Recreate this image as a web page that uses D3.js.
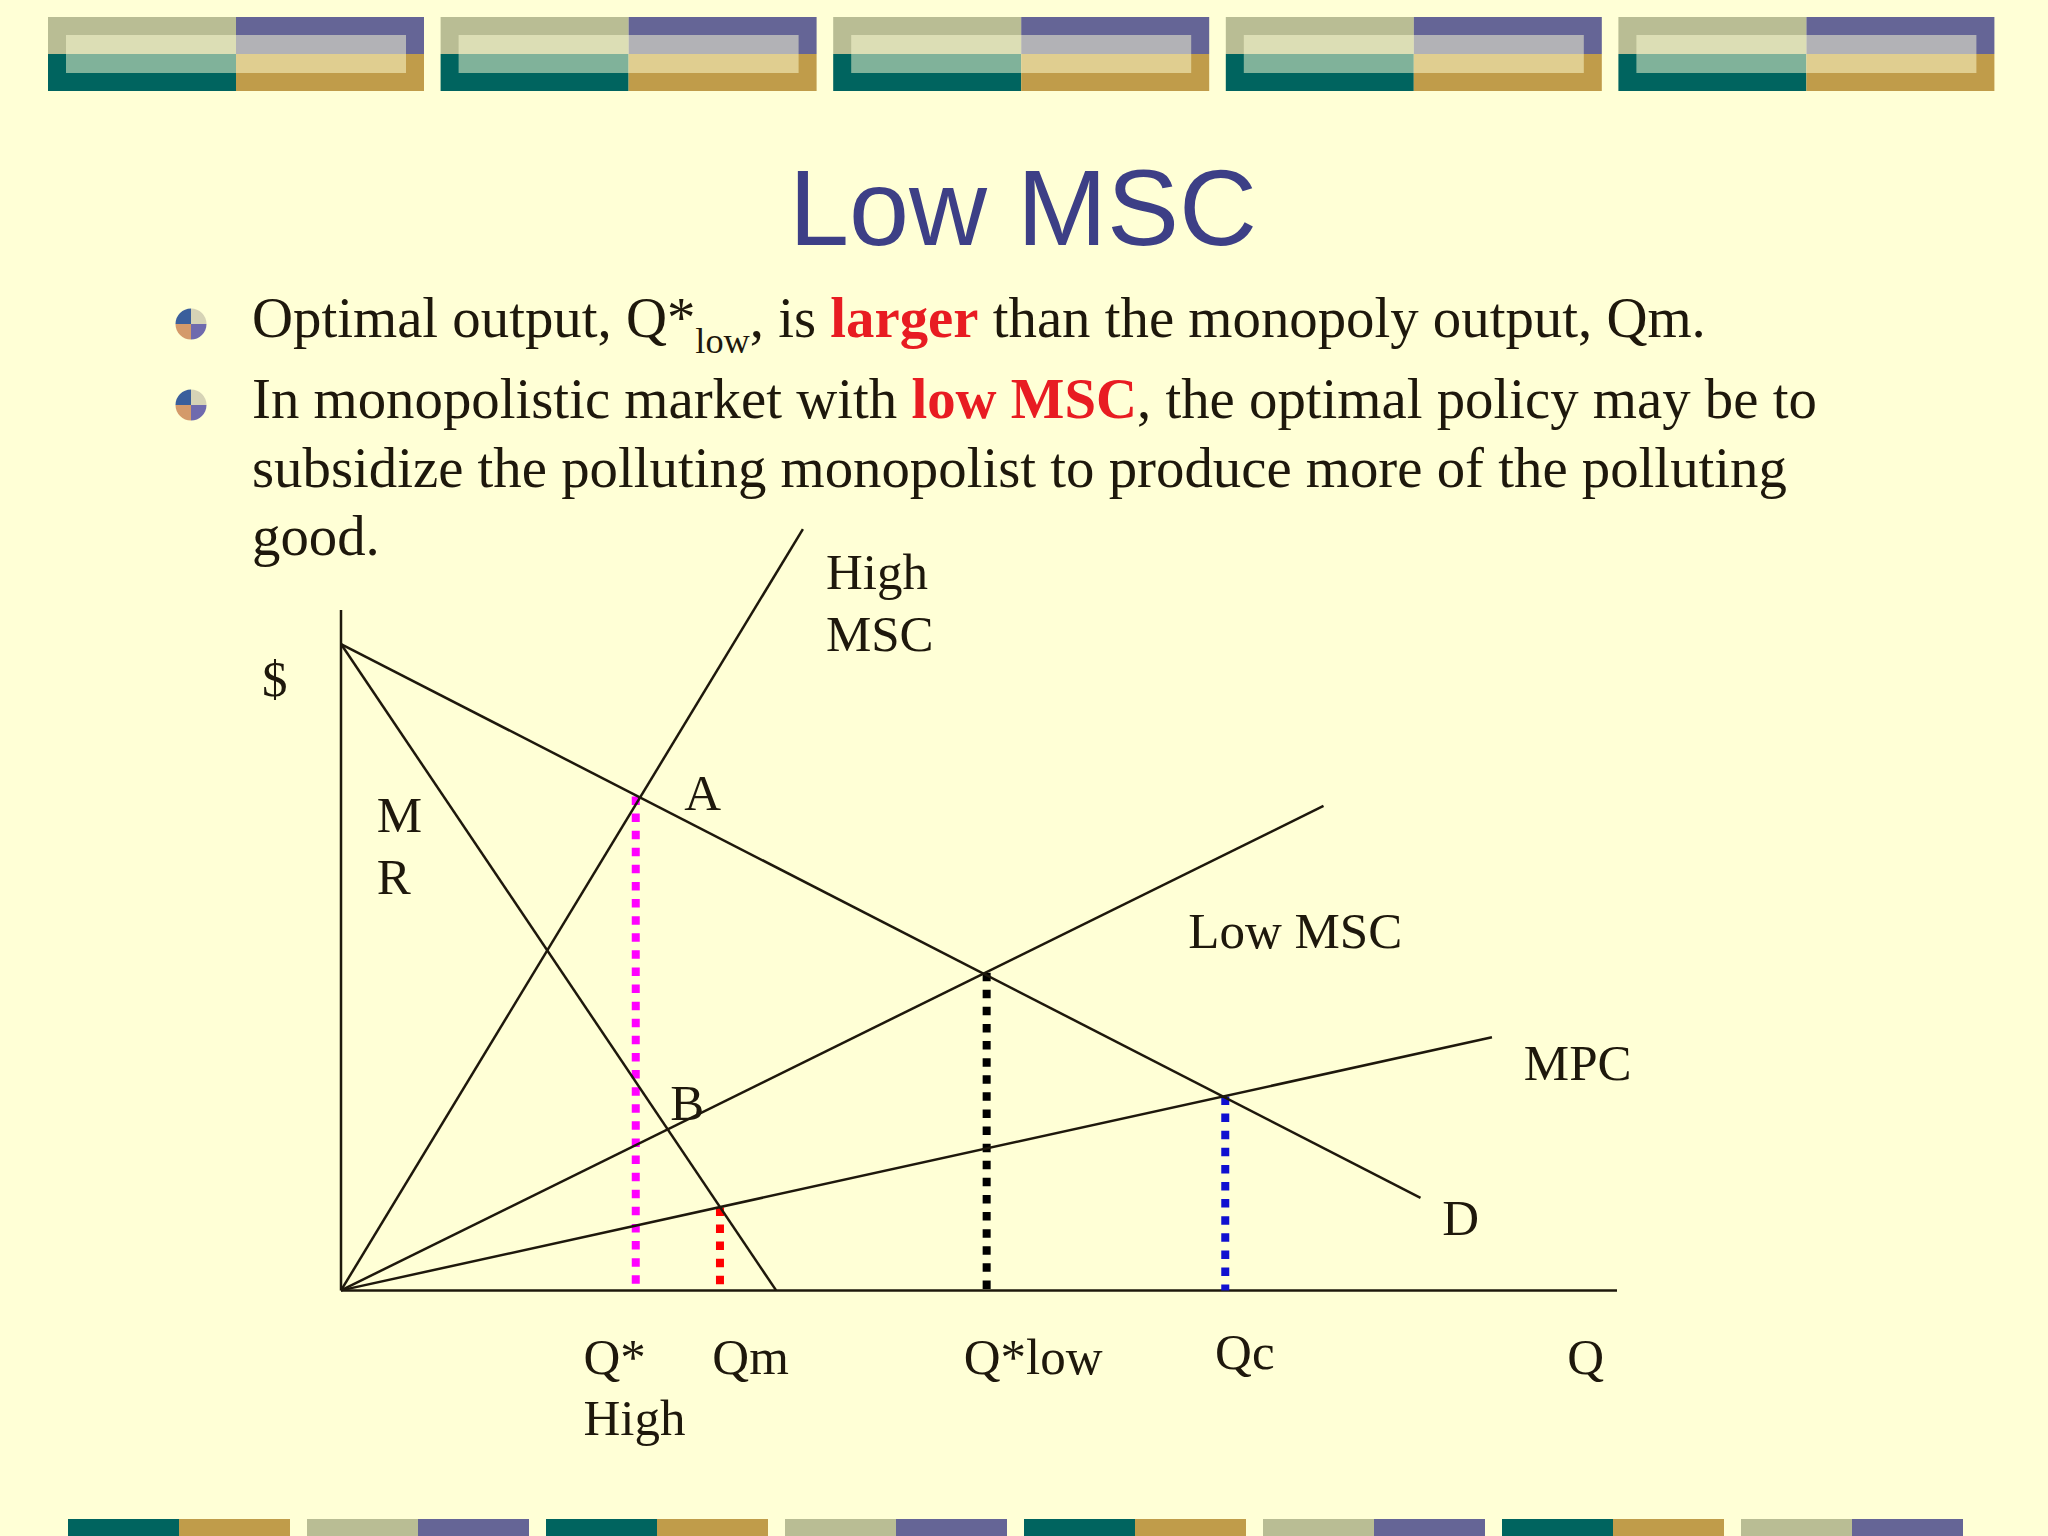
<!DOCTYPE html>
<html lang="en">
<head>
<meta charset="UTF-8">
<title>Low MSC</title>
<script src="https://d3js.org/d3.v7.min.js"></script>
<style>
  body { margin: 0; background: #ffffd6; }
</style>
</head>
<body>
<svg id="chart" width="2048" height="1536"></svg>
<script>
// curves: name, start point [Q, $], end point [Q, $]
const curveNames = ["D", "MR", "High MSC", "Low MSC", "MPC"];
const curveStart = [[0, 95], [0, 95], [0, 0], [0, 0], [0, 0]];
const curveEnd = [[84.6, 13.6], [34.1, 0], [36.2, 111.9], [77.0, 71.2], [90.2, 37.2]];

// dotted drop lines at the intersections
const dropNames = ["Q* High", "Qm", "Q*low", "Qc"];
const dropQ = [23.1, 29.7, 50.6, 69.3];
const dropP = [72.6, 12.2, 46.7, 28.5];
const dropColors = ["#ff00ff", "#ff0000", "#000000", "#1010d0"];

// axis tick labels under the Q axis
const qLabels = ["Q*", "Qm", "Q*low", "Qc", "Q"];

const W = 2048, H = 1536;
const svg = d3.select("#chart");
const ink = "#1e180c";
const serif = "'Liberation Serif', 'Times New Roman', serif";

svg.append("rect").attr("width", W).attr("height", H).attr("fill", "#ffffd6");

// ---- decorative banners
const teal = "#00645f", gold = "#c09c4a", olive = "#b9bd94", purple = "#656596";
const banner = svg.append("g");
d3.range(5).forEach(i => {
  const x0 = 48 + i * 392.6;
  const g = banner.append("g").attr("transform", `translate(${x0},17)`);
  g.append("rect").attr("x", 0).attr("y", 0).attr("width", 188).attr("height", 37).attr("fill", olive);
  g.append("rect").attr("x", 188).attr("y", 0).attr("width", 188).attr("height", 37).attr("fill", purple);
  g.append("rect").attr("x", 0).attr("y", 37).attr("width", 188).attr("height", 37).attr("fill", teal);
  g.append("rect").attr("x", 188).attr("y", 37).attr("width", 188).attr("height", 37).attr("fill", gold);
  g.append("rect").attr("x", 18).attr("y", 18).attr("width", 340).attr("height", 38)
    .attr("fill", "#ffffd6").attr("opacity", 0.5);
});
d3.range(8).forEach(i => {
  const x0 = 68 + i * 239;
  const a = i % 2 === 0 ? teal : olive, b = i % 2 === 0 ? gold : purple;
  svg.append("rect").attr("x", x0).attr("y", 1519).attr("width", 111).attr("height", 20).attr("fill", a);
  svg.append("rect").attr("x", x0 + 111).attr("y", 1519).attr("width", 111).attr("height", 20).attr("fill", b);
});

// ---- title
svg.append("text").attr("x", 1023).attr("y", 245)
  .attr("text-anchor", "middle")
  .attr("font-family", "'Liberation Sans', Arial, sans-serif")
  .attr("font-size", 108).attr("fill", "#3d3f86")
  .text("Low MSC");

// ---- bullets
function bullet(cx, cy) {
  const r = 15.5;
  const arc = d3.arc().innerRadius(0).outerRadius(r);
  const cols = ["#d6d3b6", "#6f6aae", "#d49a6a", "#3a5f9c"];
  const g = svg.append("g").attr("transform", `translate(${cx},${cy})`);
  cols.forEach((c, k) => {
    g.append("path").attr("d", arc({ startAngle: k * Math.PI / 2, endAngle: (k + 1) * Math.PI / 2 }))
      .attr("fill", c);
  });
}
bullet(191, 324);
bullet(191, 405);

const fs = 56.8;
function line(y, parts) {
  const t = svg.append("text").attr("x", 252).attr("y", y)
    .attr("font-family", serif).attr("font-size", fs).attr("fill", ink);
  parts.forEach(p => {
    const s = t.append("tspan").text(p.t);
    if (p.red) s.attr("fill", "#e81c22").attr("font-weight", "bold");
    if (p.sub) s.attr("font-size", fs * 0.64).attr("dy", 16);
    if (p.up) s.attr("dy", -16);
  });
}
line(337, [{ t: "Optimal output, Q*" }, { t: "low", sub: true }, { t: ", is ", up: true },
  { t: "larger", red: true }, { t: " than the monopoly output, Qm." }]);
line(418, [{ t: "In monopolistic market with " }, { t: "low MSC", red: true },
  { t: ", the optimal policy may be to" }]);
line(487, [{ t: "subsidize the polluting monopolist to produce more of the polluting" }]);
line(555, [{ t: "good." }]);

// ---- diagram
const x = d3.scaleLinear().domain([0, 100]).range([341, 1617]);
const y = d3.scaleLinear().domain([0, 100]).range([1290.4, 610]);

const plot = svg.append("g");

// axes
plot.append("line").attr("x1", x(0)).attr("x2", x(0)).attr("y1", y(0)).attr("y2", y(100))
  .attr("stroke", ink).attr("stroke-width", 2.5);
plot.append("line").attr("x1", x(0)).attr("x2", x(100)).attr("y1", y(0)).attr("y2", y(0))
  .attr("stroke", ink).attr("stroke-width", 2.5);

// dotted drops (drawn under the curves)
plot.selectAll("line.drop").data(dropQ).enter().append("line")
  .attr("class", "drop")
  .attr("x1", d => x(d)).attr("x2", d => x(d))
  .attr("y1", (d, i) => y(dropP[i])).attr("y2", y(0))
  .attr("stroke", (d, i) => dropColors[i])
  .attr("stroke-width", 8)
  .attr("stroke-dasharray", "8.5 8.6");

// curves
plot.selectAll("line.curve").data(curveNames).enter().append("line")
  .attr("class", "curve")
  .attr("x1", (d, i) => x(curveStart[i][0])).attr("y1", (d, i) => y(curveStart[i][1]))
  .attr("x2", (d, i) => x(curveEnd[i][0])).attr("y2", (d, i) => y(curveEnd[i][1]))
  .attr("stroke", ink).attr("stroke-width", 2.5);

// labels
const lfs = 51;
const labels = [
  { t: "$", q: -6.2, p: 87.3 },
  { t: "M", q: 2.8, p: 67.4 }, { t: "R", q: 2.8, p: 58.3 },
  { t: "High", q: 38.0, p: 103.1 }, { t: "MSC", q: 38.0, p: 94.0 },
  { t: "A", q: 26.9, p: 70.6 },
  { t: "B", q: 25.8, p: 25.0 },
  { t: "Low MSC", q: 66.4, p: 50.3 },
  { t: "MPC", q: 92.7, p: 30.9 },
  { t: "D", q: 86.3, p: 8.1 },
  { t: qLabels[0], q: 19.0, p: -12.3 }, { t: "High", q: 19.0, p: -21.3 },
  { t: qLabels[1], q: 29.1, p: -12.3 },
  { t: qLabels[2], q: 48.8, p: -12.3 },
  { t: qLabels[3], q: 68.5, p: -11.5 },
  { t: qLabels[4], q: 96.1, p: -12.3 }
];
plot.selectAll("text").data(labels).enter().append("text")
  .attr("x", d => x(d.q)).attr("y", d => y(d.p))
  .attr("font-family", serif).attr("font-size", lfs).attr("fill", ink)
  .text(d => d.t);
</script>
</body>
</html>
